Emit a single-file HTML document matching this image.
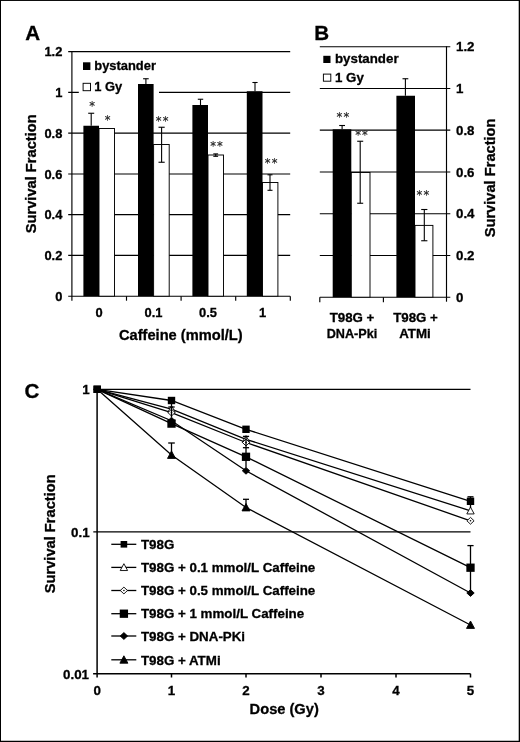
<!DOCTYPE html>
<html lang="en">
<head>
<meta charset="utf-8">
<title>Figure</title>
<style>
html,body{margin:0;padding:0;background:#fff;}
body{width:520px;height:742px;overflow:hidden;position:relative;}
svg{position:absolute;left:0;top:0;display:block;}
text{font-family:"Liberation Sans",Arial,Helvetica,sans-serif;font-weight:bold;fill:#000;stroke:#000;stroke-width:0.3px;}
.t{font-size:13px;}
.tA{font-size:12.9px;}
.tB{font-size:13.3px;}
.tC{font-size:13.35px;}
.ax{font-size:14.65px;}
.pl{font-size:20.6px;}
.st{font-family:"DejaVu Sans","Liberation Sans",sans-serif;font-weight:normal;font-size:11.5px;fill:#222;stroke:#222;stroke-width:0.15px;letter-spacing:1.2px;}
.g{stroke:#000;stroke-width:1.15;fill:none;}
.gc{stroke:#000;stroke-width:1.5;fill:none;}
.e{stroke:#000;stroke-width:1.1;fill:none;}
.e2{stroke:#000;stroke-width:1.3;fill:none;}
.s{stroke:#000;stroke-width:1.3;fill:none;}
.bb{fill:#000;stroke:none;}
.bg{fill:#fff;stroke:none;}
.wb{fill:#fff;stroke:#000;stroke-width:0.95;}
</style>
</head>
<body>
<svg width="520" height="742" viewBox="0 0 520 742">
<rect x="0" y="0" width="520" height="742" fill="#fff"/>
<g>

<!-- Panel A -->
<text class="pl" transform="translate(25.3,40.0)">A</text>
<line class="g" x1="68.20" y1="51.65" x2="290.20" y2="51.65"/>
<line class="g" x1="68.20" y1="92.40" x2="290.20" y2="92.40"/>
<line class="g" x1="68.20" y1="133.15" x2="290.20" y2="133.15"/>
<line class="g" x1="68.20" y1="174.00" x2="290.20" y2="174.00"/>
<line class="g" x1="68.20" y1="214.65" x2="290.20" y2="214.65"/>
<line class="g" x1="68.20" y1="255.40" x2="290.20" y2="255.40"/>
<line class="g" x1="68.20" y1="296.20" x2="290.20" y2="296.20"/>
<line class="g" x1="71.90" y1="51.60" x2="71.90" y2="300.70"/>
<line class="g" x1="126.50" y1="296.20" x2="126.50" y2="300.70"/>
<line class="g" x1="181.10" y1="296.20" x2="181.10" y2="300.70"/>
<line class="g" x1="235.70" y1="296.20" x2="235.70" y2="300.70"/>
<line class="g" x1="290.30" y1="296.20" x2="290.30" y2="300.70"/>
<rect class="bg" x="78.80" y="58.00" width="80.20" height="38.00"/>
<text class="tA" x="62.30" y="56.25" text-anchor="end">1.2</text>
<text class="tA" x="62.30" y="97.00" text-anchor="end">1</text>
<text class="tA" x="62.30" y="137.75" text-anchor="end">0.8</text>
<text class="tA" x="62.30" y="178.60" text-anchor="end">0.6</text>
<text class="tA" x="62.30" y="219.25" text-anchor="end">0.4</text>
<text class="tA" x="62.30" y="260.00" text-anchor="end">0.2</text>
<text class="tA" x="62.30" y="300.80" text-anchor="end">0</text>
<rect class="bb" x="83.40" y="125.75" width="15.60" height="170.45"/>
<rect class="wb" x="99.00" y="128.50" width="15.50" height="167.70"/>
<rect class="bb" x="138.00" y="84.00" width="15.60" height="212.20"/>
<rect class="wb" x="153.60" y="144.50" width="15.60" height="151.70"/>
<rect class="bb" x="192.40" y="105.00" width="15.60" height="191.20"/>
<rect class="wb" x="208.00" y="155.00" width="15.50" height="141.20"/>
<rect class="bb" x="246.80" y="91.25" width="15.70" height="204.95"/>
<rect class="wb" x="262.50" y="182.50" width="15.40" height="113.70"/>
<line class="e" x1="91.20" y1="113.25" x2="91.20" y2="125.75"/>
<line class="e" x1="88.20" y1="113.25" x2="94.20" y2="113.25"/>
<line class="e" x1="145.90" y1="78.75" x2="145.90" y2="84.00"/>
<line class="e" x1="143.10" y1="78.75" x2="148.70" y2="78.75"/>
<line class="e" x1="161.60" y1="127.25" x2="161.60" y2="162.25"/>
<line class="e" x1="158.50" y1="127.25" x2="164.70" y2="127.25"/>
<line class="e" x1="158.50" y1="162.25" x2="164.70" y2="162.25"/>
<line class="e" x1="200.50" y1="99.25" x2="200.50" y2="105.00"/>
<line class="e" x1="197.80" y1="99.25" x2="203.20" y2="99.25"/>
<line class="e" x1="215.70" y1="153.90" x2="215.70" y2="156.30"/>
<line class="e" x1="213.30" y1="153.90" x2="218.10" y2="153.90"/>
<line class="e" x1="213.30" y1="156.30" x2="218.10" y2="156.30"/>
<line class="e" x1="255.00" y1="82.50" x2="255.00" y2="91.25"/>
<line class="e" x1="252.40" y1="82.50" x2="257.60" y2="82.50"/>
<line class="e" x1="270.00" y1="174.80" x2="270.00" y2="190.30"/>
<line class="e" x1="267.50" y1="174.80" x2="272.50" y2="174.80"/>
<line class="e" x1="267.50" y1="190.30" x2="272.50" y2="190.30"/>
<rect class="bb" x="83.00" y="62.30" width="7.40" height="7.70"/>
<text class="tA" x="94.30" y="70.30" text-anchor="start">bystander</text>
<rect class="wb" x="83.10" y="83.30" width="7.40" height="7.40"/>
<text class="tA" x="94.30" y="90.70" text-anchor="start">1 Gy</text>
<text class="st" x="92.80" y="109.90" text-anchor="middle">*</text>
<text class="st" x="108.20" y="124.30" text-anchor="middle">*</text>
<text class="st" x="162.80" y="124.50" text-anchor="middle">**</text>
<text class="st" x="217.10" y="149.80" text-anchor="middle">**</text>
<text class="st" x="271.70" y="167.30" text-anchor="middle">**</text>
<text class="tA" x="99.00" y="317.10" text-anchor="middle">0</text>
<text class="tA" x="153.50" y="317.10" text-anchor="middle">0.1</text>
<text class="tA" x="208.00" y="317.10" text-anchor="middle">0.5</text>
<text class="tA" x="262.50" y="317.10" text-anchor="middle">1</text>
<text class="ax" x="180.80" y="340.30" text-anchor="middle">Caffeine (mmol/L)</text>
<text class="ax" text-anchor="middle" transform="translate(36.2,173.8) rotate(-90)">Survival Fraction</text>
<!-- Panel B -->
<text class="pl" transform="translate(314.3,40.0)">B</text>
<line class="g" x1="319.80" y1="46.70" x2="450.30" y2="46.70"/>
<line class="g" x1="319.80" y1="88.45" x2="450.30" y2="88.45"/>
<line class="g" x1="319.80" y1="130.10" x2="450.30" y2="130.10"/>
<line class="g" x1="319.80" y1="171.95" x2="450.30" y2="171.95"/>
<line class="g" x1="319.80" y1="213.70" x2="450.30" y2="213.70"/>
<line class="g" x1="319.80" y1="255.45" x2="450.30" y2="255.45"/>
<line class="g" x1="319.80" y1="297.20" x2="450.30" y2="297.20"/>
<line class="g" x1="446.50" y1="46.30" x2="446.50" y2="301.70"/>
<line class="g" x1="319.80" y1="297.20" x2="319.80" y2="302.20"/>
<line class="g" x1="383.40" y1="297.20" x2="383.40" y2="302.20"/>
<rect class="bg" x="321.50" y="51.00" width="80.50" height="34.00"/>
<rect class="bb" x="332.70" y="129.30" width="18.60" height="167.90"/>
<rect class="wb" x="351.30" y="172.50" width="18.70" height="124.70"/>
<rect class="bb" x="396.40" y="95.75" width="18.60" height="201.45"/>
<rect class="wb" x="415.00" y="225.40" width="17.90" height="71.80"/>
<line class="e" x1="342.10" y1="125.50" x2="342.10" y2="129.30"/>
<line class="e" x1="339.20" y1="125.50" x2="345.00" y2="125.50"/>
<line class="e" x1="360.20" y1="141.25" x2="360.20" y2="203.25"/>
<line class="e" x1="357.20" y1="141.25" x2="363.20" y2="141.25"/>
<line class="e" x1="357.20" y1="203.25" x2="363.20" y2="203.25"/>
<line class="e" x1="405.40" y1="78.75" x2="405.40" y2="95.75"/>
<line class="e" x1="402.50" y1="78.75" x2="408.30" y2="78.75"/>
<line class="e" x1="424.30" y1="209.50" x2="424.30" y2="240.75"/>
<line class="e" x1="421.20" y1="209.50" x2="427.40" y2="209.50"/>
<line class="e" x1="421.20" y1="240.75" x2="427.40" y2="240.75"/>
<rect class="bb" x="323.30" y="55.80" width="7.20" height="7.20"/>
<text class="tB" x="335.00" y="63.30" text-anchor="start">bystander</text>
<rect class="wb" x="323.40" y="74.10" width="7.40" height="7.10"/>
<text class="tB" x="335.00" y="81.50" text-anchor="start">1 Gy</text>
<text class="st" x="343.40" y="121.00" text-anchor="middle">**</text>
<text class="st" x="362.10" y="139.30" text-anchor="middle">**</text>
<text class="st" x="423.50" y="199.30" text-anchor="middle">**</text>
<text class="tB" x="456.00" y="51.40" text-anchor="start">1.2</text>
<text class="tB" x="456.00" y="93.15" text-anchor="start">1</text>
<text class="tB" x="456.00" y="134.80" text-anchor="start">0.8</text>
<text class="tB" x="456.00" y="176.65" text-anchor="start">0.6</text>
<text class="tB" x="456.00" y="218.40" text-anchor="start">0.4</text>
<text class="tB" x="456.00" y="260.15" text-anchor="start">0.2</text>
<text class="tB" x="456.00" y="301.90" text-anchor="start">0</text>
<text class="tB" x="352.00" y="321.80" text-anchor="middle">T98G +</text>
<text class="tB" x="352.00" y="337.60" text-anchor="middle" textLength="50.6" lengthAdjust="spacingAndGlyphs">DNA-Pki</text>
<text class="tB" x="415.50" y="321.80" text-anchor="middle">T98G +</text>
<text class="tB" x="415.00" y="337.60" text-anchor="middle">ATMi</text>
<text class="ax" text-anchor="middle" transform="translate(494.5,177.9) rotate(-90)">Survival Fraction</text>
<!-- Panel C -->
<text class="pl" transform="translate(24.4,397.5)">C</text>
<line class="g" x1="93.30" y1="389.30" x2="470.50" y2="389.30"/>
<line class="g" x1="93.30" y1="531.80" x2="470.50" y2="531.80"/>
<line class="gc" x1="93.10" y1="673.70" x2="470.50" y2="673.70"/>
<line class="gc" x1="97.10" y1="389.30" x2="97.10" y2="677.50"/>
<line class="gc" x1="171.50" y1="673.70" x2="171.50" y2="677.50"/>
<line class="gc" x1="246.00" y1="673.70" x2="246.00" y2="677.50"/>
<line class="gc" x1="321.00" y1="673.70" x2="321.00" y2="677.50"/>
<line class="gc" x1="396.00" y1="673.70" x2="396.00" y2="677.50"/>
<line class="gc" x1="470.50" y1="673.70" x2="470.50" y2="677.50"/>
<text class="tC" x="89.60" y="393.90" text-anchor="end">1</text>
<text class="tC" x="89.60" y="537.30" text-anchor="end">0.1</text>
<text class="tC" x="89.00" y="679.20" text-anchor="end">0.01</text>
<text class="tC" x="97.20" y="694.60" text-anchor="middle">0</text>
<text class="tC" x="171.50" y="694.60" text-anchor="middle">1</text>
<text class="tC" x="246.00" y="694.60" text-anchor="middle">2</text>
<text class="tC" x="321.00" y="694.60" text-anchor="middle">3</text>
<text class="tC" x="396.00" y="694.60" text-anchor="middle">4</text>
<text class="tC" x="470.50" y="694.60" text-anchor="middle">5</text>
<text class="ax" x="284.20" y="713.60" text-anchor="middle">Dose (Gy)</text>
<text class="ax" text-anchor="middle" transform="translate(55.4,533.8) rotate(-90)">Survival Fraction</text>
<rect class="bg" x="104.00" y="536.00" width="226.00" height="136.00"/>
<polyline class="s" points="97.20,389.30 171.50,400.50 246.00,429.30 470.50,501.30"/>
<rect x="93.50" y="385.60" width="7.40" height="7.40" fill="#000"/>
<rect x="167.80" y="396.80" width="7.40" height="7.40" fill="#000"/>
<rect x="242.30" y="425.60" width="7.40" height="7.40" fill="#000"/>
<rect x="466.80" y="497.60" width="7.40" height="7.40" fill="#000"/>
<polyline class="s" points="97.20,389.30 171.50,409.20 246.00,439.30 470.50,510.80"/>
<polygon points="171.50,405.50 175.20,412.34 167.80,412.34" fill="#fff" stroke="#000" stroke-width="0.9"/>
<polygon points="246.00,435.60 249.70,442.44 242.30,442.44" fill="#fff" stroke="#000" stroke-width="0.9"/>
<polygon points="470.50,507.10 474.20,513.95 466.80,513.95" fill="#fff" stroke="#000" stroke-width="0.9"/>
<polyline class="s" points="97.20,389.30 171.50,412.60 246.00,442.50 470.50,520.80"/>
<polygon points="171.50,409.20 175.10,412.60 171.50,416.00 167.90,412.60" fill="#fff" stroke="#000" stroke-width="0.9"/>
<circle cx="171.50" cy="412.60" r="0.8" fill="#000"/>
<polygon points="246.00,439.10 249.60,442.50 246.00,445.90 242.40,442.50" fill="#fff" stroke="#000" stroke-width="0.9"/>
<circle cx="246.00" cy="442.50" r="0.8" fill="#000"/>
<polygon points="470.50,517.40 474.10,520.80 470.50,524.20 466.90,520.80" fill="#fff" stroke="#000" stroke-width="0.9"/>
<circle cx="470.50" cy="520.80" r="0.8" fill="#000"/>
<polyline class="s" points="97.20,389.30 171.50,423.60 246.00,456.80 470.50,567.70"/>
<rect x="167.35" y="419.45" width="8.30" height="8.30" fill="#000"/>
<rect x="241.85" y="452.65" width="8.30" height="8.30" fill="#000"/>
<rect x="466.35" y="563.55" width="8.30" height="8.30" fill="#000"/>
<polyline class="s" points="97.20,389.30 171.50,420.70 246.00,470.80 470.50,593.00"/>
<polygon points="171.50,417.30 175.20,420.70 171.50,424.10 167.80,420.70" fill="#000" stroke="#000" stroke-width="0.9"/>
<polygon points="246.00,467.40 249.70,470.80 246.00,474.20 242.30,470.80" fill="#000" stroke="#000" stroke-width="0.9"/>
<polygon points="470.50,589.60 474.20,593.00 470.50,596.40 466.80,593.00" fill="#000" stroke="#000" stroke-width="0.9"/>
<polyline class="s" points="97.20,389.30 171.50,455.00 246.00,507.50 470.50,625.00"/>
<polygon points="171.50,451.00 175.50,458.40 167.50,458.40" fill="#000" stroke="#000" stroke-width="0.9"/>
<polygon points="246.00,503.50 250.00,510.90 242.00,510.90" fill="#000" stroke="#000" stroke-width="0.9"/>
<polygon points="470.50,621.00 474.50,628.40 466.50,628.40" fill="#000" stroke="#000" stroke-width="0.9"/>
<rect x="93.50" y="385.60" width="7.40" height="7.40" fill="#000"/>
<line class="e2" x1="171.50" y1="443.00" x2="171.50" y2="455.00"/>
<line class="e2" x1="168.20" y1="443.00" x2="174.80" y2="443.00"/>
<line class="e2" x1="246.00" y1="499.30" x2="246.00" y2="507.50"/>
<line class="e2" x1="243.00" y1="499.30" x2="249.00" y2="499.30"/>
<line class="e2" x1="246.00" y1="436.40" x2="246.00" y2="447.70"/>
<line class="e2" x1="242.90" y1="436.40" x2="249.10" y2="436.40"/>
<line class="e2" x1="242.90" y1="447.70" x2="249.10" y2="447.70"/>
<line class="e2" x1="246.00" y1="447.70" x2="246.00" y2="467.50"/>
<line class="e2" x1="470.50" y1="545.60" x2="470.50" y2="590.00"/>
<line class="e2" x1="467.40" y1="545.60" x2="473.60" y2="545.60"/>
<line class="e2" x1="470.50" y1="496.80" x2="470.50" y2="508.00"/>
<line class="e2" x1="467.50" y1="496.80" x2="473.50" y2="496.80"/>
<line class="e2" x1="171.50" y1="407.00" x2="171.50" y2="417.50"/>
<line class="e2" x1="168.30" y1="407.00" x2="174.70" y2="407.00"/>
<line class="e2" x1="171.50" y1="403.00" x2="171.50" y2="407.00"/>
<line class="s" x1="111.30" y1="544.30" x2="136.30" y2="544.30"/>
<rect x="120.60" y="541.00" width="6.60" height="6.60" fill="#000"/>
<text class="tC" x="140.90" y="549.00" text-anchor="start">T98G</text>
<line class="s" x1="111.30" y1="567.40" x2="136.30" y2="567.40"/>
<polygon points="123.90,563.70 127.60,570.54 120.20,570.54" fill="#fff" stroke="#000" stroke-width="0.9"/>
<text class="tC" x="140.90" y="572.10" text-anchor="start">T98G + 0.1 mmol/L Caffeine</text>
<line class="s" x1="111.30" y1="590.50" x2="136.30" y2="590.50"/>
<polygon points="123.90,587.10 127.50,590.50 123.90,593.90 120.30,590.50" fill="#fff" stroke="#000" stroke-width="0.9"/>
<circle cx="123.90" cy="590.50" r="0.8" fill="#000"/>
<text class="tC" x="140.90" y="595.20" text-anchor="start">T98G + 0.5 mmol/L Caffeine</text>
<line class="s" x1="111.30" y1="613.70" x2="136.30" y2="613.70"/>
<rect x="119.75" y="609.55" width="8.30" height="8.30" fill="#000"/>
<text class="tC" x="140.90" y="618.40" text-anchor="start">T98G + 1 mmol/L Caffeine</text>
<line class="s" x1="111.30" y1="636.00" x2="136.30" y2="636.00"/>
<polygon points="123.90,632.60 127.60,636.00 123.90,639.40 120.20,636.00" fill="#000" stroke="#000" stroke-width="0.9"/>
<text class="tC" x="140.90" y="640.70" text-anchor="start">T98G + DNA-PKi</text>
<line class="s" x1="111.30" y1="659.80" x2="136.30" y2="659.80"/>
<polygon points="123.90,655.80 127.90,663.20 119.90,663.20" fill="#000" stroke="#000" stroke-width="0.9"/>
<text class="tC" x="140.90" y="664.50" text-anchor="start">T98G + ATMi</text>
</g>
<rect x="0" y="0" width="520" height="0.95" fill="#000"/><rect x="0" y="0" width="1" height="742" fill="#000"/><rect x="518.7" y="0" width="1.3" height="742" fill="#000"/><rect x="0" y="740.75" width="520" height="1.25" fill="#000"/>
</svg>
</body>
</html>
